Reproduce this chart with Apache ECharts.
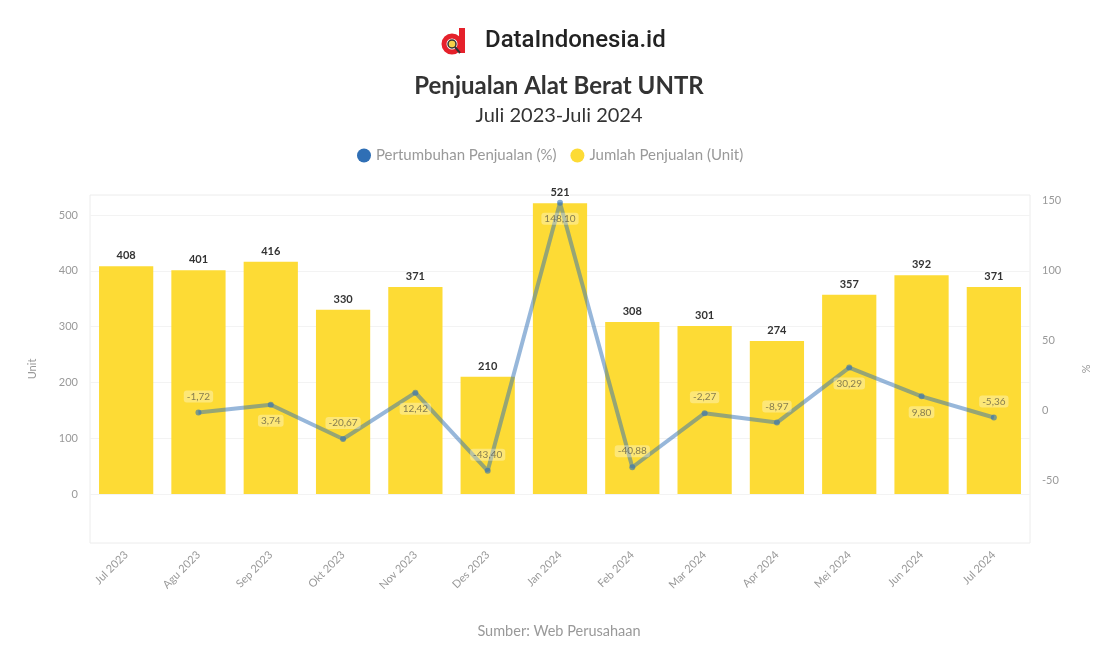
<!DOCTYPE html>
<html>
<head>
<meta charset="utf-8">
<script src="https://cdn.jsdelivr.net/npm/echarts@6/dist/echarts.min.js"></script>
<style>
html,body{margin:0;padding:0;background:#fff;}
#c{width:1118px;height:650px;}
</style>
</head>
<body>
<div id="c"></div>
<script>
const categories = ["Jul 2023","Agu 2023","Sep 2023","Okt 2023","Nov 2023","Des 2023","Jan 2024","Feb 2024","Mar 2024","Apr 2024","Mei 2024","Jun 2024","Jul 2024"];
const salesUnits = [408, 401, 416, 330, 371, 210, 521, 308, 301, 274, 357, 392, 371];
const growthPct = [null, -1.72, 3.74, -20.67, 12.42, -43.40, 148.10, -40.88, -2.27, -8.97, 30.29, 9.80, -5.36];
const leftTicks = [0, 100, 200, 300, 400, 500];
const rightTicks = [-50, 0, 50, 100, 150];

const FONT = 'Lato, "Noto Sans", sans-serif';
const chart = echarts.init(document.getElementById('c'), null, {renderer: 'canvas'});

const growthData = growthPct.map(v => v === null ? null : {
  value: v,
  label: {position: v < 0 ? 'top' : 'bottom'}
});

chart.setOption({
  backgroundColor: '#fff',
  textStyle: {fontFamily: FONT},
  animation: false,
  title: [
    {text: 'Penjualan Alat Berat UNTR', left: 'center', top: 69,
     textStyle: {fontFamily: FONT, fontSize: 24, fontWeight: 'bold', color: '#333'}},
    {text: 'Juli 2023-Juli 2024', left: 'center', top: 101,
     textStyle: {fontFamily: FONT, fontSize: 20, fontWeight: 'normal', color: '#333'}},
    {text: 'Sumber: Web Perusahaan', left: 'center', top: 619,
     textStyle: {fontFamily: FONT, fontSize: 14.5, fontWeight: 'normal', color: '#999'}}
  ],
  graphic: [
    {type: 'circle', shape: {cx: 452, cy: 44, r: 8}, style: {fill: '#fff', stroke: '#e5212b', lineWidth: 5}},
    {type: 'rect', shape: {x: 459, y: 28, width: 6, height: 25}, style: {fill: '#e5212b'}},
    {type: 'circle', shape: {cx: 452, cy: 44, r: 4}, style: {fill: '#f5d24a', stroke: '#333', lineWidth: 1.5}},
    {type: 'line', shape: {x1: 455, y1: 47, x2: 460, y2: 53}, style: {stroke: '#333', lineWidth: 2}},
    {type: 'text', left: 485, top: 29, style: {text: 'DataIndonesia.id', fontFamily: 'Roboto, sans-serif', fontSize: 24, fontWeight: 500, fill: '#222'}}
  ],
  legend: {
    top: 143, left: 352,
    data: ['Pertumbuhan Penjualan (%)', 'Jumlah Penjualan (Unit)'],
    icon: 'circle', itemWidth: 14, itemHeight: 14, itemGap: 14,
    textStyle: {fontFamily: FONT, fontSize: 15, color: '#999'},
    itemStyle: {opacity: 1}
  },
  grid: {left: 90, right: 88, top: 195, bottom: 107, show: true, borderColor: '#ececec', borderWidth: 1, containLabel: false},
  xAxis: {
    type: 'category', data: categories,
    axisLine: {show: false}, axisTick: {show: false},
    axisLabel: {rotate: 45, margin: 10, fontSize: 11, color: '#999', fontFamily: FONT}
  },
  yAxis: [
    {type: 'value', min: -87.8, max: 535.8,
     name: 'Unit', nameLocation: 'middle', nameGap: 52, nameRotate: 90,
     nameTextStyle: {color: '#999', fontSize: 11},
     axisLine: {show: false}, axisTick: {show: false, customValues: leftTicks},
     axisLabel: {customValues: leftTicks, color: '#999', fontSize: 11, margin: 12},
     splitLine: {show: true, lineStyle: {color: '#f3f3f3'}}},
    {type: 'value', min: -95, max: 153.6,
     name: '%', nameLocation: 'middle', nameGap: 50, nameRotate: -90,
     nameTextStyle: {color: '#999', fontSize: 11},
     axisLine: {show: false}, axisTick: {show: false, customValues: rightTicks},
     axisLabel: {customValues: rightTicks, color: '#999', fontSize: 11, margin: 12},
     splitLine: {show: false}}
  ],
  series: [
    {name: 'Jumlah Penjualan (Unit)', type: 'bar', yAxisIndex: 0, data: salesUnits,
     barCategoryGap: '25%',
     itemStyle: {color: '#FDDB35'},
     label: {show: true, position: 'top', distance: 5, fontSize: 11, fontWeight: 'bold', color: '#333',
             textBorderColor: '#fff', textBorderWidth: 2}},
    {name: 'Pertumbuhan Penjualan (%)', type: 'line', yAxisIndex: 1, data: growthData,
     connectNulls: false, symbol: 'circle', symbolSize: 6,
     itemStyle: {color: '#2f6fb5', opacity: 0.6},
     lineStyle: {color: '#2f6fb5', width: 4, opacity: 0.5},
     label: {show: true, fontSize: 10, color: '#333', distance: 7,
             backgroundColor: 'rgba(255,255,255,0.55)', padding: [1, 3], borderRadius: 3,
             formatter: p => p.value.toFixed(2).replace('.', ',')}}
  ]
});
</script>
</body>
</html>
